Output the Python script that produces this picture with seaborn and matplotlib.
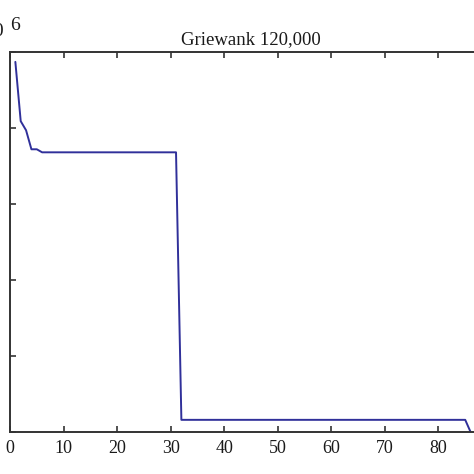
import matplotlib
matplotlib.use("Agg")
import matplotlib.pyplot as plt
import seaborn as sns
import pandas as pd
import numpy as np

# Data (values in units of 1e6)
iterations = [1, 2, 3, 4, 5, 6, 31, 32, 85, 86]
fitness_e6 = [4.87, 4.09, 3.97, 3.72, 3.72, 3.68, 3.68, 0.16, 0.16, 0.0]
x_ticks = [0, 10, 20, 30, 40, 50, 60, 70, 80]
y_ticks_e6 = [0, 1, 2, 3, 4, 5]
title = "Griewank 120,000"
y_scale_base = "×10"
y_scale_exp = "6"

df = pd.DataFrame({"iteration": iterations, "fitness": fitness_e6})

sns.set_style("ticks")
plt.rcParams["font.family"] = ["Liberation Serif", "DejaVu Serif"]

fig = plt.figure(figsize=(4.74, 4.74), dpi=100)
ax = fig.add_axes([10 / 474, 42 / 474, 482 / 474, 380 / 474])

sns.lineplot(data=df, x="iteration", y="fitness", ax=ax,
             color="#30309a", linewidth=1.4)

ax.set_xlim(0, 90)
ax.set_ylim(0, 5)
ax.set_xticks(x_ticks)
ax.set_yticks(y_ticks_e6)
ax.set_yticklabels([])
ax.set_xlabel("")
ax.set_ylabel("")
ax.set_title(title, fontsize=13.5, pad=6, color="#1a1a1a")

for side in ["left", "right", "top", "bottom"]:
    ax.spines[side].set_visible(True)
    ax.spines[side].set_color("#333333")
    ax.spines[side].set_linewidth(1.4)

ax.tick_params(axis="both", direction="in", length=4, width=1.2,
               colors="#333333", labelcolor="#1a1a1a", labelsize=13,
               top=True, right=True)
ax.tick_params(axis="x", pad=6)

# scale factor label (partially cropped at the left edge, as in the reference)
fig.text(4 / 474, 1 - 36 / 474, y_scale_base, ha="right", va="baseline",
         fontsize=14, color="#1a1a1a")
fig.text(10 / 474, 1 - 30 / 474, y_scale_exp, ha="left", va="baseline",
         fontsize=14, color="#1a1a1a")

fig.savefig("out.png", dpi=100)
